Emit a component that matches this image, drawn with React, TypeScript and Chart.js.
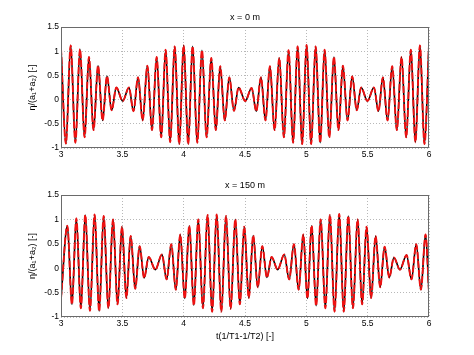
import React, { useEffect, useRef } from 'react';
import { Chart, registerables } from 'chart.js';
Chart.register(...registerables);

const xTicks = [3, 3.5, 4, 4.5, 5, 5.5, 6];
const xTickLabels = ['3', '3.5', '4', '4.5', '5', '5.5', '6'];
const yTicks = [-1, -0.5, 0, 0.5, 1, 1.5];
const yTickLabels = ['-1', '-0.5', '0', '0.5', '1', '1.5'];

const topTitle = 'x = 0 m';
const bottomTitle = 'x = 150 m';
const yLabel = 'η/(a₁+a₂) [-]';
const xLabel = 't(1/T1-1/T2) [-]';

// x = 0 m : turning points of the surface elevation
const topT = [
  3.000, 3.040, 3.079, 3.117, 3.155, 3.192, 3.228, 3.265, 3.302, 3.339, 3.375, 3.413, 3.451, 3.503,
  3.554, 3.591, 3.628, 3.666, 3.704, 3.742, 3.780, 3.817, 3.853, 3.890, 3.927, 3.964, 4.000, 4.037,
  4.073, 4.111, 4.149, 4.187, 4.225, 4.262, 4.298, 4.335, 4.372, 4.410, 4.448, 4.502, 4.554, 4.592,
  4.630, 4.667, 4.703, 4.741, 4.779, 4.817, 4.855, 4.892, 4.929, 4.966, 5.002, 5.039, 5.076, 5.113,
  5.149, 5.187, 5.225, 5.262, 5.298, 5.336, 5.374, 5.411, 5.447, 5.498, 5.551, 5.588, 5.624, 5.662,
  5.700, 5.738, 5.776, 5.814, 5.852, 5.889, 5.926, 5.963, 6.000,
];
const topEta = [
  1.06, -0.91, 1.12, -0.89, 1.04, -0.78, 0.88, -0.63, 0.70, -0.43, 0.48, -0.22, 0.25, -0.03,
  0.25, -0.24, 0.46, -0.43, 0.70, -0.63, 0.88, -0.78, 1.03, -0.88, 1.10, -0.92, 1.12, -0.92,
  1.10, -0.89, 1.02, -0.78, 0.86, -0.63, 0.69, -0.43, 0.46, -0.23, 0.25, -0.03, 0.24, -0.24,
  0.46, -0.43, 0.69, -0.63, 0.86, -0.78, 1.02, -0.89, 1.10, -0.92, 1.13, -0.92, 1.10, -0.89,
  1.03, -0.78, 0.88, -0.63, 0.70, -0.43, 0.48, -0.22, 0.25, -0.03, 0.25, -0.24, 0.46, -0.43,
  0.69, -0.63, 0.88, -0.78, 1.03, -0.88, 1.12, -0.92, 1.13,
];

// x = 150 m : turning points of the surface elevation
const bottomT = [
  3.000, 3.052, 3.089, 3.125, 3.162, 3.198, 3.236, 3.274, 3.311, 3.348, 3.386, 3.424, 3.461, 3.497,
  3.533, 3.568, 3.605, 3.641, 3.678, 3.715, 3.769, 3.823, 3.861, 3.899, 3.936, 3.972, 4.009, 4.046,
  4.083, 4.119, 4.157, 4.195, 4.232, 4.269, 4.307, 4.345, 4.383, 4.421, 4.458, 4.494, 4.531, 4.567,
  4.604, 4.641, 4.679, 4.717, 4.766, 4.820, 4.860, 4.899, 4.937, 4.975, 5.009, 5.043, 5.080, 5.117,
  5.155, 5.192, 5.230, 5.268, 5.305, 5.342, 5.380, 5.418, 5.455, 5.491, 5.528, 5.565, 5.602, 5.638,
  5.676, 5.714, 5.763, 5.817, 5.857, 5.896, 5.934, 5.972, 6.000,
];
const bottomEta = [
  -0.62, 0.87, -0.74, 1.02, -0.82, 1.09, -0.87, 1.10, -0.88, 1.07, -0.82, 1.00, -0.74, 0.85,
  -0.61, 0.66, -0.42, 0.45, -0.20, 0.23, -0.03, 0.28, -0.23, 0.49, -0.44, 0.69, -0.62, 0.87,
  -0.76, 1.00, -0.82, 1.09, -0.89, 1.10, -0.89, 1.07, -0.83, 1.00, -0.74, 0.85, -0.61, 0.67,
  -0.39, 0.45, -0.19, 0.23, -0.03, 0.28, -0.23, 0.49, -0.44, 0.69, -0.62, 0.87, -0.77, 1.00,
  -0.82, 1.09, -0.89, 1.11, -0.89, 1.07, -0.82, 1.00, -0.74, 0.85, -0.61, 0.66, -0.39, 0.44,
  -0.19, 0.22, -0.03, 0.27, -0.23, 0.49, -0.44, 0.69, -0.50,
];

const FONT = '"Liberation Sans", Arial, Helvetica, sans-serif';

function makeConfig(
  t: number[],
  eta: number[],
  title: string,
  titleY: number,
  topPad: number,
  xAxisHeight: number,
  showXLabel: boolean
): any {
  const pts = t.map((x, i) => ({ x, y: eta[i] }));
  const framePlugin = {
    id: 'frameAndTitle',
    afterDraw(chart: any) {
      const { ctx, chartArea } = chart;
      ctx.save();
      ctx.strokeStyle = '#6a6a6a';
      ctx.lineWidth = 1;
      ctx.setLineDash([]);
      ctx.strokeRect(
        Math.round(chartArea.left) + 0.5,
        Math.round(chartArea.top) + 0.5,
        Math.round(chartArea.right - chartArea.left) - 1,
        Math.round(chartArea.bottom - chartArea.top) - 1
      );
      ctx.font = `9px ${FONT}`;
      ctx.fillStyle = '#000';
      ctx.textAlign = 'center';
      ctx.textBaseline = 'middle';
      ctx.fillText(title, (chartArea.left + chartArea.right) / 2, titleY);
      ctx.restore();
    },
  };
  return {
    type: 'line',
    data: {
      datasets: [
        {
          data: pts,
          borderColor: '#ee1111',
          borderWidth: 1.9,
          borderDash: [7, 2],
          pointRadius: 0,
          cubicInterpolationMode: 'monotone',
          fill: false,
        },
        {
          data: pts,
          borderColor: '#000000',
          borderWidth: 1.6,
          pointRadius: 0,
          cubicInterpolationMode: 'monotone',
          fill: false,
        },
      ],
    },
    options: {
      animation: false,
      responsive: false,
      devicePixelRatio: 1,
      layout: { padding: { left: 0, right: 45, top: topPad, bottom: 0 } },
      plugins: { legend: { display: false }, tooltip: { enabled: false }, title: { display: false } },
      scales: {
        x: {
          type: 'linear',
          min: 3,
          max: 6,
          afterBuildTicks: (s: any) => {
            s.ticks = xTicks.map((v) => ({ value: v }));
          },
          afterFit: (s: any) => {
            s.height = xAxisHeight;
          },
          ticks: {
            padding: 2,
            color: '#000',
            font: { family: FONT, size: 8.5 },
            maxRotation: 0,
            autoSkip: false,
            callback: (v: any) => {
              const i = xTicks.indexOf(Number(v));
              return i >= 0 ? xTickLabels[i] : '';
            },
          },
          grid: { color: '#b8b8b8', lineWidth: 1, drawTicks: false },
          border: { display: false, dash: [1, 2] },
          title: {
            display: showXLabel,
            text: xLabel,
            color: '#000',
            font: { family: FONT, size: 9 },
            padding: { top: 0, bottom: 13 },
          },
        },
        y: {
          type: 'linear',
          min: -1,
          max: 1.5,
          afterBuildTicks: (s: any) => {
            s.ticks = yTicks.map((v) => ({ value: v }));
          },
          afterFit: (s: any) => {
            s.width = 61;
          },
          ticks: {
            padding: 2,
            color: '#000',
            font: { family: FONT, size: 8.5 },
            callback: (v: any) => {
              const i = yTicks.indexOf(Number(v));
              return i >= 0 ? yTickLabels[i] : '';
            },
          },
          grid: { color: '#b8b8b8', lineWidth: 1, drawTicks: false },
          border: { display: false, dash: [1, 2] },
          title: {
            display: true,
            text: yLabel,
            color: '#000',
            font: { family: FONT, size: 9 },
            padding: { top: 27, bottom: 0 },
          },
        },
      },
    },
    plugins: [framePlugin],
  };
}

function Panel(props: {
  t: number[];
  eta: number[];
  title: string;
  titleY: number;
  topPad: number;
  xAxisHeight: number;
  showXLabel: boolean;
  top: number;
  height: number;
}) {
  const ref = useRef<HTMLCanvasElement | null>(null);
  useEffect(() => {
    if (!ref.current) return;
    const chart = new Chart(
      ref.current,
      makeConfig(props.t, props.eta, props.title, props.titleY, props.topPad, props.xAxisHeight, props.showXLabel)
    );
    return () => chart.destroy();
  }, []);
  return (
    <canvas
      ref={ref}
      width={474}
      height={props.height}
      style={{ position: 'absolute', left: 0, top: props.top, width: 474, height: props.height }}
    />
  );
}

export default function App() {
  return (
    <div style={{ position: 'absolute', left: 0, top: 0, width: 474, height: 355, background: '#fff' }}>
      <Panel t={topT} eta={topEta} title={topTitle} titleY={18} topPad={27} xAxisHeight={22} showXLabel={false} top={0} height={170} />
      <Panel t={bottomT} eta={bottomEta} title={bottomTitle} titleY={16} topPad={25} xAxisHeight={38} showXLabel={true} top={170} height={185} />
    </div>
  );
}
